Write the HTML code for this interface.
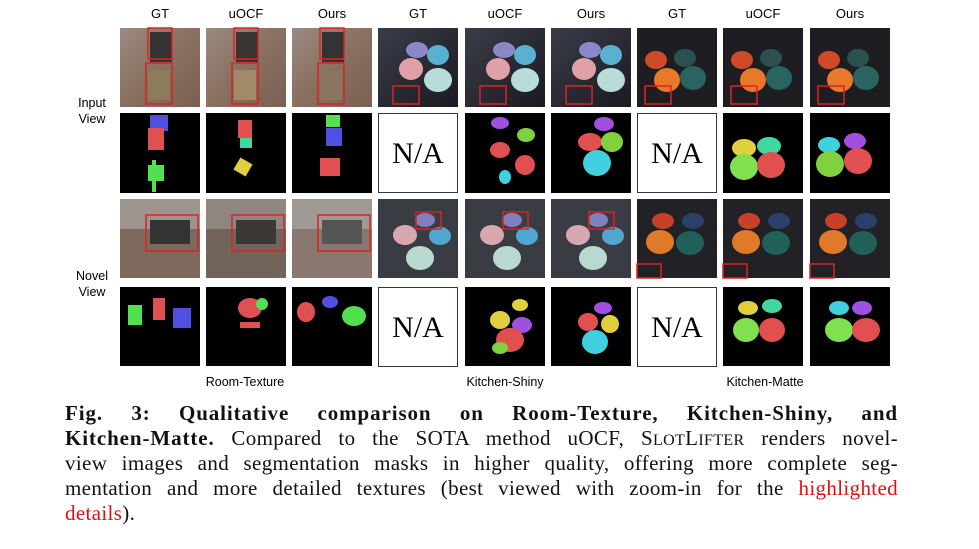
<!DOCTYPE html>
<html><head><meta charset="utf-8"><style>
body{margin:0;width:979px;height:549px;background:#fff;position:relative;overflow:hidden;font-family:"Liberation Sans",sans-serif}
.h{position:absolute;top:6px;width:80px;text-align:center;font-size:13px;color:#000}
.l{position:absolute;font-size:12.5px;text-align:center;line-height:16px}
.cap{position:absolute;left:65px;width:833px;font-family:"Liberation Serif",serif;font-size:21px;line-height:25px;white-space:nowrap;text-align:justify;text-align-last:justify;color:#111;letter-spacing:0.35px;word-spacing:-1px}
.cap b{letter-spacing:0.9px}
.na{position:absolute;width:78px;height:78px;border:1px solid #2a3550;background:#fff;font-family:"Liberation Serif",serif;font-size:30px;text-align:center;line-height:80px}
</style></head><body>
<div class="h" style="left:120px">GT</div><div class="h" style="left:206px">uOCF</div><div class="h" style="left:292px">Ours</div>
<div class="h" style="left:378px">GT</div><div class="h" style="left:465px">uOCF</div><div class="h" style="left:551px">Ours</div>
<div class="h" style="left:637px">GT</div><div class="h" style="left:723px">uOCF</div><div class="h" style="left:810px">Ours</div>
<div class="l" style="left:68px;top:95px;width:48px">Input<br>View</div>
<div class="l" style="left:68px;top:268px;width:48px">Novel<br>View</div>
<svg width="979" height="400" style="position:absolute;left:0;top:0">
<defs>
<linearGradient id="room" x1="0" y1="0" x2="1" y2="1"><stop offset="0" stop-color="#9a8a80"/><stop offset="0.5" stop-color="#8a7060"/><stop offset="1" stop-color="#7a6050"/></linearGradient>
<linearGradient id="dark" x1="0" y1="0" x2="1" y2="1"><stop offset="0" stop-color="#3a3c48"/><stop offset="1" stop-color="#1a1a22"/></linearGradient>
</defs>
<g>
<rect x="120" y="28" width="80" height="79" fill="url(#room)"/>
<rect x="150" y="32" width="22" height="30" fill="#333"/><rect x="148" y="70" width="22" height="30" fill="#8d7c5c"/>
<rect x="148" y="28" width="24" height="31" fill="none" stroke="#d22" stroke-width="1.5"/><rect x="146" y="63" width="26" height="41" fill="none" stroke="#d22" stroke-width="1.5"/>
<rect x="206" y="28" width="80" height="79" fill="url(#room)"/>
<rect x="236" y="32" width="22" height="30" fill="#3a3430"/><rect x="234" y="70" width="22" height="30" fill="#a08a68"/>
<rect x="234" y="28" width="24" height="31" fill="none" stroke="#d22" stroke-width="1.5"/><rect x="232" y="63" width="26" height="41" fill="none" stroke="#d22" stroke-width="1.5"/>
<rect x="292" y="28" width="80" height="79" fill="url(#room)"/>
<rect x="322" y="32" width="22" height="30" fill="#333"/><rect x="320" y="70" width="22" height="30" fill="#8a7660"/>
<rect x="320" y="28" width="24" height="31" fill="none" stroke="#d22" stroke-width="1.5"/><rect x="318" y="63" width="26" height="41" fill="none" stroke="#d22" stroke-width="1.5"/>
</g>
<g>
<rect x="378" y="28" width="80" height="79" fill="url(#dark)"/><ellipse cx="417" cy="50" rx="11" ry="8" fill="#8a88c8"/><ellipse cx="438" cy="55" rx="11" ry="10" fill="#5ab0d0"/><ellipse cx="411" cy="69" rx="12" ry="11" fill="#e0a0a8"/><ellipse cx="438" cy="80" rx="14" ry="12" fill="#b8dcd8"/>
<rect x="393" y="86" width="26" height="18" fill="none" stroke="#d22" stroke-width="1.5"/>
<rect x="465" y="28" width="80" height="79" fill="url(#dark)"/><ellipse cx="504" cy="50" rx="11" ry="8" fill="#8a88c8"/><ellipse cx="525" cy="55" rx="11" ry="10" fill="#5ab0d0"/><ellipse cx="498" cy="69" rx="12" ry="11" fill="#e0a0a8"/><ellipse cx="525" cy="80" rx="14" ry="12" fill="#b8dcd8"/>
<rect x="480" y="86" width="26" height="18" fill="none" stroke="#d22" stroke-width="1.5"/>
<rect x="551" y="28" width="80" height="79" fill="url(#dark)"/><ellipse cx="590" cy="50" rx="11" ry="8" fill="#8a88c8"/><ellipse cx="611" cy="55" rx="11" ry="10" fill="#5ab0d0"/><ellipse cx="584" cy="69" rx="12" ry="11" fill="#e0a0a8"/><ellipse cx="611" cy="80" rx="14" ry="12" fill="#b8dcd8"/>
<rect x="566" y="86" width="26" height="18" fill="none" stroke="#d22" stroke-width="1.5"/>
</g>
<g>
<rect x="637" y="28" width="80" height="79" fill="#1e1e22"/><ellipse cx="656" cy="60" rx="11" ry="9" fill="#d04a2a"/><ellipse cx="685" cy="58" rx="11" ry="9" fill="#2a5050"/><ellipse cx="667" cy="80" rx="13" ry="12" fill="#e8782a"/><ellipse cx="693" cy="78" rx="13" ry="12" fill="#2a6460"/>
<rect x="645" y="86" width="26" height="18" fill="none" stroke="#d22" stroke-width="1.5"/>
<rect x="723" y="28" width="80" height="79" fill="#1e1e22"/><ellipse cx="742" cy="60" rx="11" ry="9" fill="#d04a2a"/><ellipse cx="771" cy="58" rx="11" ry="9" fill="#2a5050"/><ellipse cx="753" cy="80" rx="13" ry="12" fill="#e8782a"/><ellipse cx="779" cy="78" rx="13" ry="12" fill="#2a6460"/>
<rect x="731" y="86" width="26" height="18" fill="none" stroke="#d22" stroke-width="1.5"/>
<rect x="810" y="28" width="80" height="79" fill="#1e1e22"/><ellipse cx="829" cy="60" rx="11" ry="9" fill="#d04a2a"/><ellipse cx="858" cy="58" rx="11" ry="9" fill="#2a5050"/><ellipse cx="840" cy="80" rx="13" ry="12" fill="#e8782a"/><ellipse cx="866" cy="78" rx="13" ry="12" fill="#2a6460"/>
<rect x="818" y="86" width="26" height="18" fill="none" stroke="#d22" stroke-width="1.5"/>
</g>
<rect x="120" y="113" width="80" height="80" fill="#000"/>
<rect x="150" y="115" width="18" height="16" fill="#5050e0"/><rect x="148" y="128" width="16" height="22" fill="#e05050"/><rect x="148" y="165" width="16" height="16" fill="#50e050"/><rect x="152" y="160" width="4" height="32" fill="#50e050"/>
<rect x="206" y="113" width="80" height="80" fill="#000"/>
<rect x="238" y="120" width="14" height="18" fill="#e05050"/><rect x="240" y="138" width="12" height="10" fill="#40d8a0"/><rect x="236" y="160" width="14" height="14" fill="#e0d040" transform="rotate(30 243 167)"/>
<rect x="292" y="113" width="80" height="80" fill="#000"/>
<rect x="326" y="128" width="16" height="18" fill="#5050e0"/><rect x="326" y="115" width="14" height="12" fill="#50e050"/><rect x="320" y="158" width="20" height="18" fill="#e05050"/>
<rect x="465" y="113" width="80" height="80" fill="#000"/>
<ellipse cx="500" cy="123" rx="9" ry="6" fill="#a050e0"/><ellipse cx="526" cy="135" rx="9" ry="7" fill="#80d040"/><ellipse cx="500" cy="150" rx="10" ry="8" fill="#e05050"/><ellipse cx="525" cy="165" rx="10" ry="10" fill="#e05050"/><ellipse cx="505" cy="177" rx="6" ry="7" fill="#40d0e0"/>
<rect x="551" y="113" width="80" height="80" fill="#000"/>
<ellipse cx="604" cy="124" rx="10" ry="7" fill="#a050e0"/><ellipse cx="590" cy="142" rx="12" ry="9" fill="#e05050"/><ellipse cx="612" cy="142" rx="11" ry="10" fill="#80d040"/><ellipse cx="597" cy="163" rx="14" ry="13" fill="#40d0e0"/>
<rect x="723" y="113" width="80" height="80" fill="#000"/>
<ellipse cx="744" cy="148" rx="12" ry="9" fill="#e0d040"/><ellipse cx="769" cy="146" rx="12" ry="9" fill="#40d8a0"/><ellipse cx="744" cy="167" rx="14" ry="13" fill="#80e050"/><ellipse cx="771" cy="165" rx="14" ry="13" fill="#e05050"/>
<rect x="810" y="113" width="80" height="80" fill="#000"/>
<ellipse cx="829" cy="145" rx="11" ry="8" fill="#40d0e0"/><ellipse cx="855" cy="141" rx="11" ry="8" fill="#a050e0"/><ellipse cx="830" cy="164" rx="14" ry="13" fill="#80d040"/><ellipse cx="858" cy="161" rx="14" ry="13" fill="#e05050"/>
<rect x="120" y="199" width="80" height="79" fill="#7e6a5c"/><rect x="120" y="199" width="80" height="30" fill="#9c948e"/><rect x="150" y="220" width="40" height="24" fill="#333"/>
<rect x="146" y="215" width="52" height="36" fill="none" stroke="#d22" stroke-width="1.5"/>
<rect x="206" y="199" width="80" height="79" fill="#72645a"/><rect x="206" y="199" width="80" height="30" fill="#8e8680"/><rect x="236" y="220" width="40" height="24" fill="#3e3834"/>
<rect x="232" y="215" width="52" height="36" fill="none" stroke="#d22" stroke-width="1.5"/>
<rect x="292" y="199" width="80" height="79" fill="#8a7870"/><rect x="292" y="199" width="80" height="30" fill="#a09a94"/><rect x="322" y="220" width="40" height="24" fill="#555"/>
<rect x="318" y="215" width="52" height="36" fill="none" stroke="#d22" stroke-width="1.5"/>
<g>
<rect x="378" y="199" width="80" height="79" fill="#3a3c44"/><ellipse cx="425" cy="220" rx="10" ry="7" fill="#8080c0"/><ellipse cx="405" cy="235" rx="12" ry="10" fill="#d8a8b0"/><ellipse cx="440" cy="236" rx="11" ry="9" fill="#50a8d0"/><ellipse cx="420" cy="258" rx="14" ry="12" fill="#b8d8d0"/>
<rect x="416" y="212" width="25" height="17" fill="none" stroke="#d22" stroke-width="1.5"/>
<rect x="465" y="199" width="80" height="79" fill="#3a3c44"/><ellipse cx="512" cy="220" rx="10" ry="7" fill="#8080c0"/><ellipse cx="492" cy="235" rx="12" ry="10" fill="#d8a8b0"/><ellipse cx="527" cy="236" rx="11" ry="9" fill="#50a8d0"/><ellipse cx="507" cy="258" rx="14" ry="12" fill="#b8d8d0"/>
<rect x="503" y="212" width="25" height="17" fill="none" stroke="#d22" stroke-width="1.5"/>
<rect x="551" y="199" width="80" height="79" fill="#3a3c44"/><ellipse cx="598" cy="220" rx="10" ry="7" fill="#8080c0"/><ellipse cx="578" cy="235" rx="12" ry="10" fill="#d8a8b0"/><ellipse cx="613" cy="236" rx="11" ry="9" fill="#50a8d0"/><ellipse cx="593" cy="258" rx="14" ry="12" fill="#b8d8d0"/>
<rect x="589" y="212" width="25" height="17" fill="none" stroke="#d22" stroke-width="1.5"/>
</g>
<g>
<rect x="637" y="199" width="80" height="79" fill="#222226"/><ellipse cx="663" cy="221" rx="11" ry="8" fill="#c84028"/><ellipse cx="693" cy="221" rx="11" ry="8" fill="#28406a"/><ellipse cx="660" cy="242" rx="14" ry="12" fill="#e07a28"/><ellipse cx="690" cy="243" rx="14" ry="12" fill="#206058"/>
<rect x="637" y="264" width="24" height="14" fill="none" stroke="#d22" stroke-width="1.5"/>
<rect x="723" y="199" width="80" height="79" fill="#222226"/><ellipse cx="749" cy="221" rx="11" ry="8" fill="#c84028"/><ellipse cx="779" cy="221" rx="11" ry="8" fill="#28406a"/><ellipse cx="746" cy="242" rx="14" ry="12" fill="#e07a28"/><ellipse cx="776" cy="243" rx="14" ry="12" fill="#206058"/>
<rect x="723" y="264" width="24" height="14" fill="none" stroke="#d22" stroke-width="1.5"/>
<rect x="810" y="199" width="80" height="79" fill="#222226"/><ellipse cx="836" cy="221" rx="11" ry="8" fill="#c84028"/><ellipse cx="866" cy="221" rx="11" ry="8" fill="#28406a"/><ellipse cx="833" cy="242" rx="14" ry="12" fill="#e07a28"/><ellipse cx="863" cy="243" rx="14" ry="12" fill="#206058"/>
<rect x="810" y="264" width="24" height="14" fill="none" stroke="#d22" stroke-width="1.5"/>
</g>
<rect x="120" y="287" width="80" height="79" fill="#000"/>
<rect x="128" y="305" width="14" height="20" fill="#50e050"/><rect x="153" y="298" width="12" height="22" fill="#e05050"/><rect x="173" y="308" width="18" height="20" fill="#5050e0"/>
<rect x="206" y="287" width="80" height="79" fill="#000"/>
<ellipse cx="250" cy="308" rx="12" ry="10" fill="#e05050"/><ellipse cx="262" cy="304" rx="6" ry="6" fill="#50e050"/><rect x="240" y="322" width="20" height="6" fill="#e05050"/>
<rect x="292" y="287" width="80" height="79" fill="#000"/>
<ellipse cx="306" cy="312" rx="9" ry="10" fill="#e05050"/><ellipse cx="330" cy="302" rx="8" ry="6" fill="#5050e0"/><ellipse cx="354" cy="316" rx="12" ry="10" fill="#50e050"/>
<rect x="465" y="287" width="80" height="79" fill="#000"/>
<ellipse cx="520" cy="305" rx="8" ry="6" fill="#e0d040"/><ellipse cx="500" cy="320" rx="10" ry="9" fill="#e0d040"/><ellipse cx="522" cy="325" rx="10" ry="8" fill="#a050e0"/><ellipse cx="510" cy="340" rx="14" ry="12" fill="#e05050"/><ellipse cx="500" cy="348" rx="8" ry="6" fill="#80d040"/>
<rect x="551" y="287" width="80" height="79" fill="#000"/>
<ellipse cx="603" cy="308" rx="9" ry="6" fill="#a050e0"/><ellipse cx="588" cy="322" rx="10" ry="9" fill="#e05050"/><ellipse cx="610" cy="324" rx="9" ry="9" fill="#e0d040"/><ellipse cx="595" cy="342" rx="13" ry="12" fill="#40d0e0"/>
<rect x="723" y="287" width="80" height="79" fill="#000"/>
<ellipse cx="748" cy="308" rx="10" ry="7" fill="#e0d040"/><ellipse cx="772" cy="306" rx="10" ry="7" fill="#40d8a0"/><ellipse cx="746" cy="330" rx="13" ry="12" fill="#80e050"/><ellipse cx="772" cy="330" rx="13" ry="12" fill="#e05050"/>
<rect x="810" y="287" width="80" height="79" fill="#000"/>
<ellipse cx="839" cy="308" rx="10" ry="7" fill="#40d0e0"/><ellipse cx="862" cy="308" rx="10" ry="7" fill="#a050e0"/><ellipse cx="839" cy="330" rx="14" ry="12" fill="#80e050"/><ellipse cx="866" cy="330" rx="14" ry="12" fill="#e05050"/>
</svg>
<div class="na" style="left:378px;top:113px">N/A</div>
<div class="na" style="left:637px;top:113px">N/A</div>
<div class="na" style="left:378px;top:287px">N/A</div>
<div class="na" style="left:637px;top:287px">N/A</div>
<div class="l" style="left:180px;top:374px;width:130px">Room-Texture</div>
<div class="l" style="left:440px;top:374px;width:130px">Kitchen-Shiny</div>
<div class="l" style="left:700px;top:374px;width:130px">Kitchen-Matte</div>
<div class="cap" style="top:401px"><b>Fig. 3: Qualitative comparison on Room-Texture, Kitchen-Shiny, and</b></div>
<div class="cap" style="top:426px"><b>Kitchen-Matte.</b> Compared to the SOTA method uOCF, S<span style="font-size:16px">LOT</span>L<span style="font-size:16px">IFTER</span> renders novel-</div>
<div class="cap" style="top:451px">view images and segmentation masks in higher quality, offering more complete seg-</div>
<div class="cap" style="top:476px">mentation and more detailed textures (best viewed with zoom-in for the <span style="color:#e01010">highlighted</span></div>
<div class="cap" style="top:501px;text-align-last:left"><span style="color:#e01010">details</span>).</div>
</body></html>
